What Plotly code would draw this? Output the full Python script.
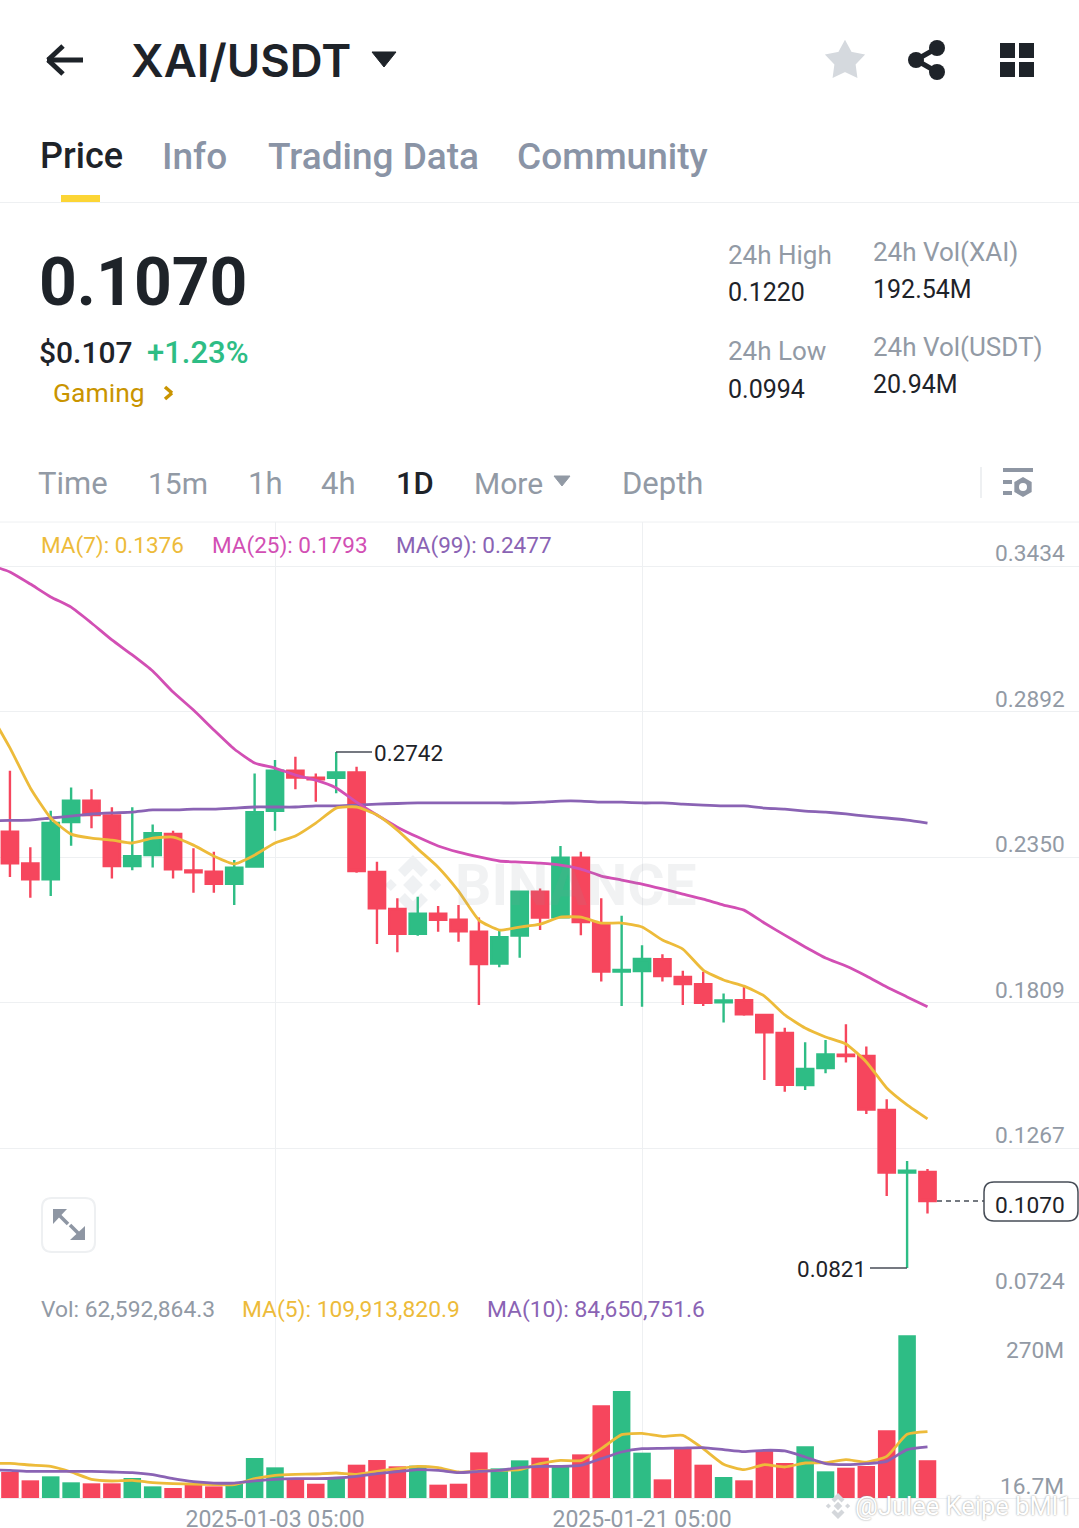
import math

import pandas as pd
import plotly.graph_objects as go
from plotly.subplots import make_subplots

W = 1079
H = 1528

UP = "#2EBD85"
DOWN = "#F6465D"
YELLOW = "#EDBB3A"
PINK = "#D24FB4"
PURPLE = "#8A63B4"
DARK = "#1E2329"
GREY = "#8A94A6"
AXIS_GREY = "#929AA5"
GRID = "#EEF0F2"
ICON_GREY = "#8E96A3"
FONT = "Roboto"

# daily candles, 2024-12-21 to 2025-02-04
opens = [.2445, .2327, .2268, .2481, .2560, .2506, .2317, .2358, .2437, .2301, .2296, .2251, .2315, .2523, .2672, .2646,
         .2646, .2666, .2295, .2157, .2065, .2140, .2117, .2073, .1954, .2058, .2222, .2126, .2348, .2104, .1924, .1926,
         .1970, .1904, .1877, .1810, .1818, .1763, .1696, .1502, .1565, .1615, .1610, .1409, .1176, .1178]
highs = [.2672, .2387, .2523, .2610, .2603, .2536, .2536, .2472, .2449, .2383, .2370, .2340, .2662, .2712, .2724, .2662,
         .2742, .2687, .2333, .2197, .2203, .2168, .2172, .2126, .2079, .2222, .2234, .2392, .2370, .2197, .2132, .2022,
         .1989, .1927, .1924, .1843, .1874, .1763, .1715, .1661, .1670, .1728, .1645, .1449, .1219, .1189]
lows = [.2276, .2199, .2206, .2393, .2458, .2271, .2302, .2312, .2271, .2218, .2218, .2172, .2315, .2449, .2603, .2557,
        .2588, .2292, .2027, .1996, .2058, .2073, .2035, .1800, .1940, .1976, .2079, .2126, .2060, .1887, .1796, .1793,
        .1887, .1800, .1796, .1735, .1760, .1521, .1477, .1483, .1546, .1586, .1394, .1089, .0821, .1024]
closes = [.2327, .2268, .2478, .2560, .2507, .2317, .2354, .2439, .2305, .2294, .2251, .2311, .2518, .2672, .2647, .2640,
          .2666, .2299, .2160, .2065, .2140, .2117, .2074, .1952, .2052, .2222, .2125, .2348, .2109, .1924, .1930, .1971,
          .1908, .1878, .1808, .1817, .1765, .1698, .1503, .1562, .1616, .1610, .1411, .1176, .1183, .1070]

# moving averages start one day before the first visible candle
ma7 = [.2890, .2757, .2608, .2496, .2436, .2421, .2414, .2403, .2421, .2425, .2395, .2354, .2325, .2358, .2403, .2429,
       .2477, .2533, .2537, .2507, .2451, .2381, .2313, .2224, .2116, .2079, .2090, .2101, .2127, .2127, .2105, .2105,
       .2090, .2042, .2008, .1930, .1893, .1870, .1833, .1763, .1714, .1681, .1655, .1588, .1491, .1428, .1376]
ma25 = [.3438, .3412, .3367, .3319, .3281, .3222, .3159, .3103, .3043, .2965, .2898, .2824, .2753, .2701, .2682, .2656,
        .2637, .2608, .2555, .2507, .2462, .2425, .2392, .2369, .2351, .2336, .2332, .2328, .2321, .2306, .2280, .2265,
        .2250, .2232, .2213, .2194, .2172, .2153, .2105, .2060, .2016, .1975, .1945, .1908, .1867, .1830, .1793]
ma99 = [.2485, .2487, .2488, .2496, .2503, .2511, .2515, .2518, .2526, .2526, .2529, .2529, .2533, .2537, .2537, .2537,
        .2541, .2541, .2544, .2548, .2550, .2552, .2552, .2552, .2552, .2552, .2552, .2555, .2559, .2559, .2555, .2555,
        .2552, .2552, .2548, .2544, .2541, .2541, .2533, .2529, .2522, .2518, .2511, .2503, .2496, .2488, .2477]

# volume in millions
volume = [43.1, 29.3, 35.9, 26.0, 24.3, 24.3, 33.1, 19.3, 16.6, 24.8, 19.3, 23.7, 66.3, 50.8, 30.4, 23.7,
          33.1, 55.2, 62.9, 52.5, 53.6, 22.1, 23.7, 75.6, 49.1, 62.4, 66.8, 52.5, 72.3, 153.5, 177.3, 75.1,
          30.9, 81.7, 55.2, 34.8, 29.3, 77.9, 58.0, 85.6, 44.2, 50.2, 53.0, 112.1, 269.5, 62.6]
vol_ma5 = [56.9, 57.4, 54.7, 52.5, 43.1, 30.9, 28.2, 29.3, 25.4, 23.7, 23.2, 22.1, 22.1, 32.0, 37.5, 39.2,
           39.8, 41.4, 39.2, 44.2, 48.6, 52.5, 50.2, 43.1, 44.7, 45.8, 46.9, 56.9, 62.4, 61.8, 81.7, 104.9,
           107.1, 102.2, 103.8, 81.7, 55.8, 46.9, 55.2, 51.4, 58.0, 58.5, 63.5, 59.6, 69.0, 105.5, 109.9]
vol_ma10 = [46.4, 45.8, 44.2, 44.2, 44.2, 44.2, 43.1, 42.0, 38.7, 32.0, 27.1, 24.8, 24.8, 28.2, 30.9, 32.0,
            32.0, 33.1, 35.9, 40.3, 43.6, 46.9, 45.8, 42.0, 44.2, 45.8, 50.2, 52.5, 52.5, 54.1, 65.2, 76.2,
            81.7, 82.3, 82.8, 83.4, 80.1, 76.8, 79.0, 77.9, 67.9, 56.9, 55.2, 56.9, 60.7, 80.1, 84.65]

price_ticks = [.3434, .2892, .2350, .1809, .1267, .0724]
price_tick_labels = ["0.3434", "0.2892", "0.2350", "0.1809", "0.1267", "0.0724"]
date_ticks = ["2025-01-03 05:00", "2025-01-21 05:00"]

dates = pd.date_range("2024-12-21 05:00", periods=len(closes), freq="D")
ma_dates = pd.date_range("2024-12-20 05:00", periods=len(ma7), freq="D")
bar_colors = [UP if c >= o else DOWN for o, c in zip(opens, closes)]


def px(x):
    return x / W


def py(y):
    return 1 - y / H


fig = make_subplots(rows=2, cols=1, shared_xaxes=True, vertical_spacing=0)

# Add traces
fig.add_trace(go.Candlestick(x=dates, open=opens, high=highs, low=lows, close=closes,
                             whiskerwidth=0,
                             increasing=dict(line=dict(color=UP, width=2.4), fillcolor=UP),
                             decreasing=dict(line=dict(color=DOWN, width=2.4), fillcolor=DOWN)), row=1, col=1)
for values, color in [(ma99, PURPLE), (ma25, PINK), (ma7, YELLOW)]:
    fig.add_trace(go.Scatter(x=ma_dates, y=values, mode="lines",
                             line=dict(color=color, width=2.8, shape="spline", smoothing=0.5)), row=1, col=1)

fig.add_trace(go.Bar(x=dates, y=volume, marker=dict(color=bar_colors, line=dict(width=0))), row=2, col=1)
fig.add_trace(go.Scatter(x=ma_dates, y=vol_ma5, mode="lines",
                         line=dict(color=YELLOW, width=2.8, shape="spline", smoothing=0.5)), row=2, col=1)
fig.add_trace(go.Scatter(x=ma_dates, y=vol_ma10, mode="lines",
                         line=dict(color=PURPLE, width=2.8, shape="spline", smoothing=0.5)), row=2, col=1)

annotations = []
shapes = []


def label(x, y, text, size, color, anchor="left", weight=400, family=FONT, shadow=None):
    font = dict(size=size, color=color, family=family, weight=weight)
    if shadow:
        font["shadow"] = shadow
    if anchor == "left":
        x = x - 1.5
    annotations.append(dict(x=px(x), y=py(y), xref="paper", yref="paper", text=text, showarrow=False,
                            xanchor=anchor, yanchor="middle", borderpad=0, font=font))


def rect(x0, y0, x1, y1, color):
    shapes.append(dict(type="rect", xref="paper", yref="paper", x0=px(x0), y0=py(y0), x1=px(x1), y1=py(y1),
                       fillcolor=color, line=dict(width=0)))


def round_rect(x0, y0, x1, y1, r, fill, line, width):
    d = (f"M {px(x0 + r):.5f} {py(y0):.5f} L {px(x1 - r):.5f} {py(y0):.5f} "
         f"Q {px(x1):.5f} {py(y0):.5f} {px(x1):.5f} {py(y0 + r):.5f} L {px(x1):.5f} {py(y1 - r):.5f} "
         f"Q {px(x1):.5f} {py(y1):.5f} {px(x1 - r):.5f} {py(y1):.5f} L {px(x0 + r):.5f} {py(y1):.5f} "
         f"Q {px(x0):.5f} {py(y1):.5f} {px(x0):.5f} {py(y1 - r):.5f} L {px(x0):.5f} {py(y0 + r):.5f} "
         f"Q {px(x0):.5f} {py(y0):.5f} {px(x0 + r):.5f} {py(y0):.5f} Z")
    shapes.append(dict(type="path", xref="paper", yref="paper", path=d, fillcolor=fill,
                       line=dict(color=line, width=width)))


def seg(x0, y0, x1, y1, color, width=1, dash="solid"):
    shapes.append(dict(type="line", xref="paper", yref="paper", x0=px(x0), y0=py(y0), x1=px(x1), y1=py(y1),
                       line=dict(color=color, width=width, dash=dash)))


def poly(points, fill=None, line=None, width=0, layer="above", closed=True):
    d = "M " + " L ".join(f"{px(a):.5f} {py(b):.5f}" for a, b in points) + (" Z" if closed else "")
    shapes.append(dict(type="path", xref="paper", yref="paper", path=d, fillcolor=fill or "rgba(0,0,0,0)",
                       line=dict(color=line or "rgba(0,0,0,0)", width=width), layer=layer))


def circle(cx, cy, r, color):
    shapes.append(dict(type="circle", xref="paper", yref="paper", x0=px(cx - r), y0=py(cy - r), x1=px(cx + r),
                       y1=py(cy + r), fillcolor=color, line=dict(width=0)))


def binance_logo(cx, cy, s, color, layer):
    # centre diamond, two side diamonds, chevrons above and below
    for dx, r in [(0, 0.33), (-0.74, 0.2), (0.74, 0.2)]:
        poly([(cx + dx * s, cy - r * s), (cx + dx * s + r * s, cy), (cx + dx * s, cy + r * s), (cx + dx * s - r * s, cy)],
             fill=color, layer=layer)
    for sign in [-1, 1]:
        poly([(cx - 0.5 * s, cy + sign * 0.5 * s), (cx, cy + sign * s), (cx + 0.5 * s, cy + sign * 0.5 * s),
              (cx + 0.27 * s, cy + sign * 0.27 * s), (cx, cy + sign * 0.54 * s), (cx - 0.27 * s, cy + sign * 0.27 * s)],
             fill=color, layer=layer)


# header
seg(47, 60, 83, 60, DARK, 5)
seg(63, 46, 48, 60, DARK, 5)
seg(48, 60, 63, 74, DARK, 5)
label(131, 61, "XAI/USDT", 45.5, DARK, weight=600, family="Inter")
poly([(372, 52), (396, 52), (384, 67)], fill=DARK, line=DARK, width=1)

star = []
for i in range(10):
    r = 18 if i % 2 == 0 else 9.5
    a = -math.pi / 2 + i * math.pi / 5
    star.append((845 + r * math.cos(a), 61 + r * math.sin(a)))
poly(star, fill="#D5D9DE", line="#D5D9DE", width=3)

seg(916, 60, 937, 48, DARK, 5)
seg(916, 60, 937, 72, DARK, 5)
circle(916, 60, 8, DARK)
circle(937, 48, 8, DARK)
circle(937, 72, 8, DARK)

rect(1000, 43, 1015, 58, DARK)
rect(1019, 43, 1034, 58, DARK)
rect(1000, 62, 1015, 77, DARK)
rect(1019, 62, 1034, 77, DARK)

label(40, 156, "Price", 36, DARK, weight=500)
label(162, 156, "Info", 37, GREY, weight=500)
label(268, 156, "Trading Data", 37, GREY, weight=500)
label(517, 156, "Community", 37, GREY, weight=500)
rect(61, 195, 100, 202, "#FCD535")
seg(0, 202.5, W, 202.5, GRID, 1)

# price summary
label(39, 283, "0.1070", 66, DARK, weight=700)
label(39, 352, "$0.107", 30, DARK, weight=500)
label(147, 352, "+1.23%", 31, UP, weight=500)
label(53, 392, "Gaming", 26.5, "#C99400")
seg(165, 387, 172, 393, "#C99400", 3.5)
seg(172, 393, 165, 399, "#C99400", 3.5)

label(728, 255, "24h High", 26, AXIS_GREY)
label(728, 293, "0.1220", 25, DARK)
label(728, 351, "24h Low", 26, AXIS_GREY)
label(728, 389, "0.0994", 25, DARK)
label(873, 252, "24h Vol(XAI)", 26, AXIS_GREY)
label(873, 289, "192.54M", 25, DARK)
label(873, 347, "24h Vol(USDT)", 26, AXIS_GREY)
label(873, 385, "20.94M", 25, DARK)

# interval row
label(38, 484, "Time", 31, AXIS_GREY)
label(148, 484, "15m", 30, AXIS_GREY)
label(248, 484, "1h", 31, AXIS_GREY)
label(321, 484, "4h", 31, AXIS_GREY)
label(396, 484, "1D", 31, DARK, weight=500)
label(474, 484, "More", 30, AXIS_GREY)
poly([(554, 476), (570, 476), (562, 486)], fill=AXIS_GREY, line=AXIS_GREY, width=1)
label(622, 484, "Depth", 31, AXIS_GREY)
seg(981, 467, 981, 498, GRID, 2)
rect(1003, 468, 1033, 472, ICON_GREY)
rect(1003, 480, 1012, 484, ICON_GREY)
rect(1003, 491, 1012, 495, ICON_GREY)
hexagon = [(1023 + 10 * math.sin(i * math.pi / 3), 487 + 10 * math.cos(i * math.pi / 3)) for i in range(6)]
poly(hexagon, fill=ICON_GREY)
circle(1023, 487, 4, "white")
seg(0, 522, W, 522, GRID, 1)

# chart legends
label(41, 545, "MA(7): 0.1376", 22.5, YELLOW)
label(212, 545, "MA(25): 0.1793", 22.5, PINK)
label(396, 545, "MA(99): 0.2477", 22.5, PURPLE)
label(41, 1309, "Vol: 62,592,864.3", 22.8, AXIS_GREY)
label(242, 1309, "MA(5): 109,913,820.9", 22.8, YELLOW)
label(487, 1309, "MA(10): 84,650,751.6", 22.8, PURPLE)

# price labels sit just above their grid lines
for val, text in zip(price_ticks, price_tick_labels):
    annotations.append(dict(x=px(1066), y=val, xref="paper", yref="y", text=text, showarrow=False, xanchor="right",
                            yanchor="bottom", yshift=-2, borderpad=0, font=dict(size=22.7, color=AXIS_GREY, family=FONT)))
label(1065, 1350, "270M", 22.7, AXIS_GREY, anchor="right")
label(1065, 1486, "16.7M", 22.7, AXIS_GREY, anchor="right")

# high / low callouts and last price
shapes.append(dict(type="line", xref="paper", yref="y", x0=px(336), x1=px(372), y0=max(highs), y1=max(highs),
                   line=dict(color="#474D57", width=1.5)))
label(374, 753, "0.2742", 22.5, DARK)
shapes.append(dict(type="line", xref="paper", yref="y", x0=px(870), x1=px(907), y0=min(lows), y1=min(lows),
                   line=dict(color="#474D57", width=1.5)))
label(798, 1269, "0.0821", 22.5, DARK)
shapes.append(dict(type="line", xref="paper", yref="y", x0=px(937), x1=px(984), y0=closes[-1], y1=closes[-1],
                   line=dict(color="#474D57", width=1.5, dash="5px,4px")))
round_rect(984, 1182, 1078, 1221, 10, "white", "#474D57", 1.5)
label(1066, 1205, "0.1070", 22.7, DARK, anchor="right")

# expand button
round_rect(42, 1198, 95, 1252, 10, "white", GRID, 2)
seg(57, 1213, 68, 1224, ICON_GREY, 3.5)
poly([(53, 1209), (67, 1209), (53, 1224)], fill=ICON_GREY)
seg(81, 1236, 70, 1225, ICON_GREY, 3.5)
poly([(85, 1240), (70, 1240), (85, 1226)], fill=ICON_GREY)

# watermarks
label(455, 885, "BINANCE", 57, "rgba(140,150,160,0.12)", weight=700)
binance_logo(413, 885, 30, "#EFF1F3", "below")
label(855, 1506, "@Julee Keipe bMl1", 25.5, "#FFFFFF", shadow="0 0 2px #8A8A8A")
binance_logo(838, 1506, 13, "#D4D7DB", "above")

fig.update_layout(
    width=W,
    height=H,
    margin=dict(l=0, r=0, t=0, b=0),
    paper_bgcolor="white",
    plot_bgcolor="white",
    showlegend=False,
    boxgap=0.2,
    boxgroupgap=0,
    bargap=0.14,
    annotations=annotations,
    shapes=shapes,
    font=dict(family=FONT),
)

x_range = ["2024-12-20 17:18", "2025-02-11 15:20"]
# automargin off: it shrinks the plot area and drags the paper-anchored texts with it
fig.update_xaxes(type="date", range=x_range, tickmode="array", tickvals=date_ticks, showgrid=True, automargin=False,
                 gridcolor=GRID, gridwidth=1, zeroline=False, ticks="", rangeslider_visible=False)
fig.update_xaxes(showticklabels=False, row=1, col=1)
fig.update_xaxes(showticklabels=True, tickformat="%Y-%m-%d %H:%M", tickfont=dict(size=23, color=AXIS_GREY, family=FONT),
                 showline=True, linecolor=GRID, linewidth=1, row=2, col=1)

# pixel rows of the two panels: price 522-1294, volume 1294-1498
fig.update_yaxes(domain=[py(1294), py(522)], range=[.0724, .3598], tickmode="array", tickvals=price_ticks, automargin=False,
                 showticklabels=False, showgrid=True, gridcolor=GRID, gridwidth=1, zeroline=False, row=1, col=1)
fig.update_yaxes(domain=[py(1498), py(1294)], range=[0, 338], showticklabels=False, showgrid=False, zeroline=False,
                 automargin=False, row=2, col=1)

fig.write_html("out.html", post_script="document.body.style.margin='0';document.body.style.overflow='hidden';",
               config=dict(displayModeBar=False))
